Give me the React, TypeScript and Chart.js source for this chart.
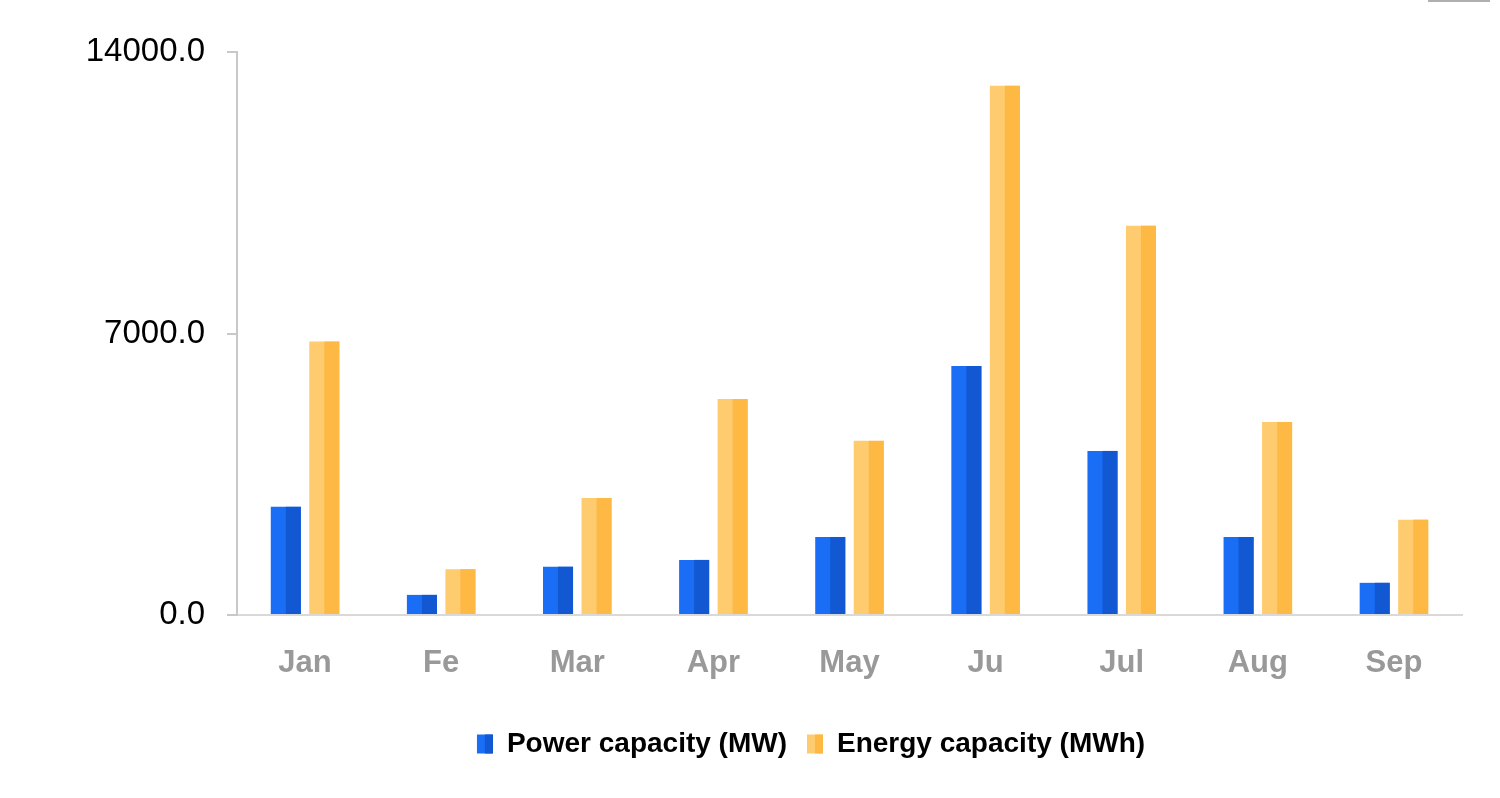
import { useEffect, useRef } from 'react';
import { Chart, registerables } from 'chart.js';

Chart.register(...registerables);

const months = ['Jan', 'Fe', 'Mar', 'Apr', 'May', 'Ju', 'Jul', 'Aug', 'Sep'];
const powerMW = [2690, 500, 1200, 1370, 1940, 6190, 4080, 1940, 800];
const energyMWh = [6800, 1140, 2910, 5370, 4330, 13160, 9680, 4800, 2370];
const yTicks = [0, 7000, 14000];

const FONT = '"Liberation Sans", Arial, Helvetica, sans-serif';

// light face + darker right half, gives the flat 3D look of the original
const shades = [
  { light: '#1a6ef6', dark: '#1158d2' },
  { light: '#fecb6f', dark: '#fdb944' },
];

const halfShade = {
  id: 'halfShade',
  afterLayout(chart: any) {
    // the legend in the original sits a bit right of the canvas centre
    const lg = chart.legend;
    if (lg) {
      lg.left += 80;
      lg.right += 80;
    }
  },
  afterDatasetsDraw(chart: any) {
    const ctx = chart.ctx;
    ctx.save();
    chart.data.datasets.forEach((_ds: any, i: number) => {
      const meta = chart.getDatasetMeta(i);
      meta.data.forEach((bar: any) => {
        const { x, y, base, width } = bar.getProps(['x', 'y', 'base', 'width'], true);
        ctx.fillStyle = shades[i].dark;
        ctx.fillRect(x, y, width / 2, base - y);
      });
    });
    ctx.restore();
  },
  afterDraw(chart: any) {
    const ctx = chart.ctx;
    ctx.save();
    const boxes = chart.legend?.legendHitBoxes || [];
    const lab = chart.options.plugins.legend.labels;
    boxes.forEach((hb: any, i: number) => {
      const bh = lab.boxHeight;
      const bw = lab.boxWidth;
      const top = hb.top + (hb.height - bh) / 2;
      ctx.fillStyle = shades[i].dark;
      ctx.fillRect(hb.left + bw / 2, top, bw / 2, bh);
    });
    ctx.restore();
  },
};

export default function App() {
  const canvasRef = useRef<HTMLCanvasElement>(null);
  const chartRef = useRef<Chart | null>(null);

  useEffect(() => {
    if (!canvasRef.current) return;
    if (chartRef.current) chartRef.current.destroy();

    chartRef.current = new Chart(canvasRef.current, {
      type: 'bar',
      data: {
        labels: months,
        datasets: [
          {
            label: 'Power capacity (MW)',
            data: powerMW,
            backgroundColor: shades[0].light,
            borderWidth: 0,
          },
          {
            label: 'Energy capacity (MWh)',
            data: energyMWh,
            backgroundColor: shades[1].light,
            borderWidth: 0,
          },
        ],
      },
      options: {
        responsive: false,
        animation: false,
        maintainAspectRatio: false,
        layout: { padding: { top: 52, right: 38, left: 0, bottom: 30 } },
        datasets: {
          bar: { categoryPercentage: 0.566, barPercentage: 0.78 },
        },
        scales: {
          x: {
            grid: { display: false },
            border: { color: '#d9d9d9', width: 2 },
            ticks: {
              color: '#999999',
              padding: 22,
              font: { family: FONT, size: 31, weight: 'bold' },
            },
            afterFit: (scale: any) => {
              scale.height = 95;
            },
          },
          y: {
            min: 0,
            max: 14000,
            afterBuildTicks: (scale: any) => {
              scale.ticks = yTicks.map((v) => ({ value: v }));
            },
            grid: {
              drawOnChartArea: false,
              tickLength: 10,
              color: '#c8c8c8',
              lineWidth: 2,
            },
            border: { color: '#c8c8c8', width: 2 },
            ticks: {
              color: '#000000',
              padding: 22,
              font: { family: FONT, size: 33 },
              callback: (v: any) => Number(v).toFixed(1),
            },
            afterFit: (scale: any) => {
              scale.width = 237;
            },
          },
        },
        plugins: {
          legend: {
            position: 'bottom',
            labels: {
              boxWidth: 16,
              boxHeight: 19,
              padding: 20,
              color: '#000000',
              font: { family: FONT, size: 28, weight: 'bold' },
            },
          },
          tooltip: { enabled: false },
        },
      },
      plugins: [halfShade],
    } as any);

    return () => {
      if (chartRef.current) {
        chartRef.current.destroy();
        chartRef.current = null;
      }
    };
  }, []);

  return (
    <div style={{ position: 'fixed', left: 0, top: 0, width: 1500, height: 798, background: '#fff' }}>
      <canvas ref={canvasRef} width={1500} height={798} style={{ display: 'block', width: 1500, height: 798 }} />
      <div style={{ position: 'absolute', left: 1428, top: 0, width: 62, height: 2, background: '#b0b0b0' }} />
    </div>
  );
}
